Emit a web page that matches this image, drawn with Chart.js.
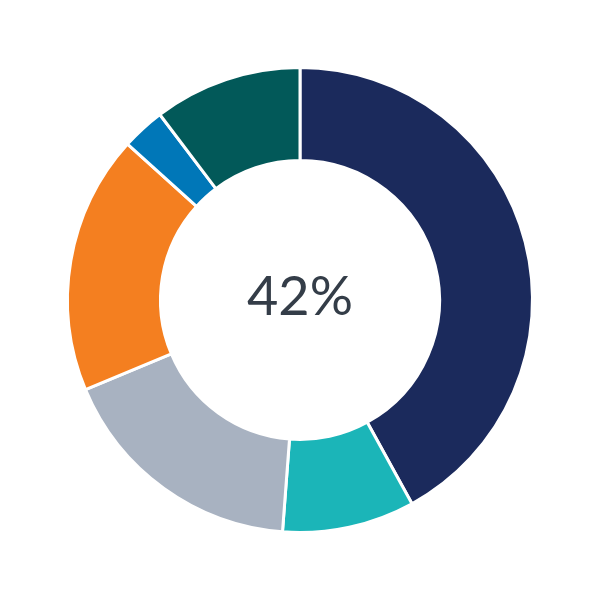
<!DOCTYPE html>
<html>
<head>
<meta charset="utf-8">
<script src="https://cdn.jsdelivr.net/npm/chart.js@4"></script>
<style>
html,body{margin:0;padding:0;background:#fff;}
#wrap{width:600px;height:600px;}
</style>
</head>
<body>
<div id="wrap"><canvas id="c" width="600" height="600"></canvas></div>
<script>
const categories = ["A", "B", "C", "D", "E", "F"];
const values = [42, 9.2, 17.5, 18, 3, 10.3];
const colors = ["#1b2a5c", "#1bb5b8", "#a8b2c1", "#f47f20", "#0077b8", "#025959"];
const centerLabel = "42%";

const centerText = {
  id: "centerText",
  afterDraw(chart) {
    const meta = chart.getDatasetMeta(0);
    if (!meta.data.length) return;
    const arc = meta.data[0];
    const ctx = chart.ctx;
    ctx.save();
    ctx.font = "400 54px Lato";
    ctx.fillStyle = "#343d48";
    ctx.textAlign = "center";
    ctx.textBaseline = "middle";
    ctx.fillText(centerLabel, arc.x, arc.y - 2);
    ctx.restore();
  }
};

new Chart(document.getElementById("c"), {
  type: "doughnut",
  data: {
    labels: categories,
    datasets: [{
      data: values,
      backgroundColor: colors,
      borderColor: "#ffffff",
      borderWidth: 3
    }]
  },
  options: {
    responsive: false,
    animation: false,
    cutout: "60%",
    layout: { padding: 66 },
    plugins: { legend: { display: false }, tooltip: { enabled: false } }
  },
  plugins: [centerText]
});
</script>
</body>
</html>
